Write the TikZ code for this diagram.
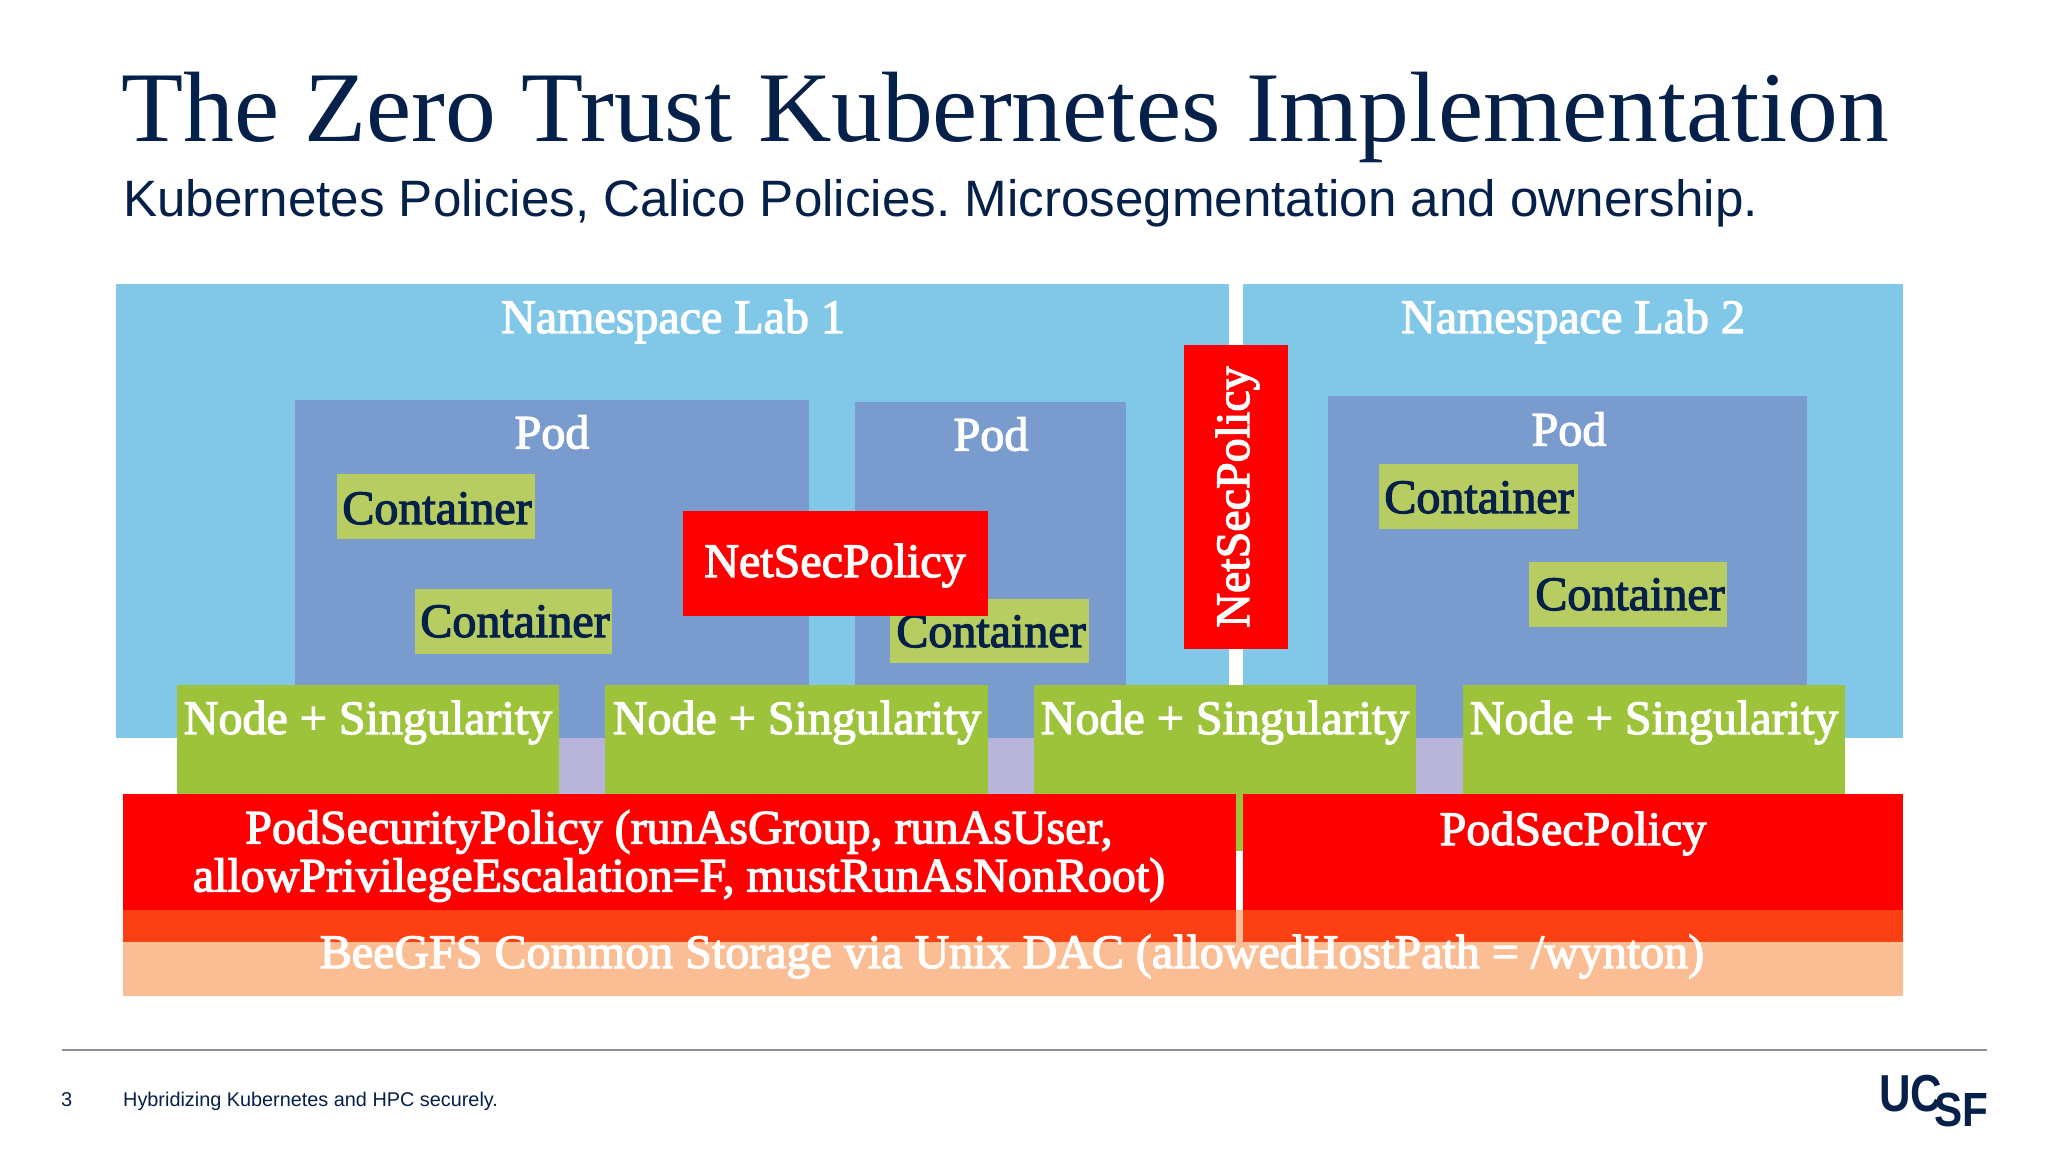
\documentclass[tikz,border=0pt]{standalone}
\usepackage{fontspec}
\setmainfont{Liberation Serif}
\newfontfamily\arialf{Liberation Sans}
\newfontfamily\labf[RawFeature={embolden=2.5}]{Liberation Serif}
\definecolor{navy}{HTML}{052049}
\definecolor{nsblue}{HTML}{81C7E8}
\definecolor{podblue}{HTML}{7A9BCE}
\definecolor{lav}{HTML}{B8B4DA}
\definecolor{contg}{HTML}{B7CD62}
\definecolor{nodeg}{HTML}{9DC33B}
\definecolor{pred}{HTML}{FF0000}
\definecolor{oran}{HTML}{FC4013}
\definecolor{peach}{HTML}{FBBE94}
\definecolor{ruleg}{HTML}{8C8C9E}
\tikzset{
  lab/.style={inner sep=0pt,anchor=base,text=white,font=\labf\frenchspacing\fontsize{48}{48}\selectfont,align=center},
  contlab/.style={lab,text=navy},
}
\begin{document}
\begin{tikzpicture}[x=1pt,y=-1pt]
\useasboundingbox (0,0) rectangle (2048,1152);
\fill[white] (0,0) rectangle (2048,1152);
% title
\node[anchor=base west,inner sep=0pt,text=navy,xscale=1.016,font=\frenchspacing\fontsize{100}{110}\selectfont] (title) at (121,141) {The Zero Trust Kubernetes Implementation};
\node[anchor=base west,inner sep=0pt,text=navy,font=\arialf\frenchspacing\fontsize{51.15}{60}\selectfont] (subtitle) at (123,216) {Kubernetes Policies, Calico Policies. Microsegmentation and ownership.};
% namespaces
\fill[nsblue] (116,284) rectangle (1229,738);
\fill[nsblue] (1243,284) rectangle (1903,738);
% pods
\fill[podblue] (295,400) rectangle (809,738);
\fill[podblue] (855,402) rectangle (1126,738);
\fill[podblue] (1328,396) rectangle (1807,738);
\fill[lav] (295,738) rectangle (809,794);
\fill[lav] (855,738) rectangle (1126,794);
\fill[lav] (1328,738) rectangle (1807,794);
\node[lab] (ns1) at (673,333) {Namespace Lab 1};
\node[lab] (ns2) at (1573,333) {Namespace Lab 2};
\node[lab] (pod1) at (552,448.5) {Pod};
\node[lab] (pod2) at (991,450.5) {Pod};
\node[lab] (pod3) at (1569,445.5) {Pod};
% containers
\fill[contg] (337,474) rectangle (535,539);
\node[contlab] (c1) at (437,524) {Container};
\fill[contg] (415,589) rectangle (612,654);
\node[contlab] (c2) at (515,637) {Container};
\fill[contg] (890,599) rectangle (1089,663);
\node[contlab] (c3) at (991,647) {Container};
\fill[contg] (1379,464) rectangle (1578,529);
\node[contlab] (c4) at (1479,513) {Container};
\fill[contg] (1529,562) rectangle (1727,627);
\node[contlab] (c5) at (1630,610) {Container};
% net sec policies
\fill[pred] (683,511) rectangle (988,616);
\node[lab] (nsp1) at (835,577) {NetSecPolicy};
\fill[pred] (1184,345) rectangle (1288,649);
\node[lab,rotate=90] (nsp2) at (1249,497) {NetSecPolicy};
% nodes
\fill[nodeg] (177,685) rectangle (559,794);
\fill[nodeg] (605,685) rectangle (988,794);
\fill[nodeg] (1034,685) rectangle (1416,851);
\fill[nodeg] (1463,685) rectangle (1845,794);
\node[lab] (n1) at (368,734) {Node + Singularity};
\node[lab] (n2) at (797,734) {Node + Singularity};
\node[lab] (n3) at (1225,734) {Node + Singularity};
\node[lab] (n4) at (1654,734) {Node + Singularity};
% storage
\fill[peach] (123,942) rectangle (1903,996);
\fill[oran] (123,910) rectangle (1236,942);
\fill[oran] (1243,910) rectangle (1903,942);
\fill[peach] (1236,910) rectangle (1243,942);
\fill[pred] (123,794) rectangle (1236,910);
\fill[pred] (1243,794) rectangle (1903,910);
\node[lab,anchor=center] (psp1) at (679,856) {PodSecurityPolicy (runAsGroup, runAsUser,\\allowPrivilegeEscalation=F, mustRunAsNonRoot)};
\node[lab] (psp2) at (1573,845) {PodSecPolicy};
\node[lab] (bee) at (1012,968) {BeeGFS Common Storage via Unix DAC (allowedHostPath = /wynton)};
% footer
\coordinate (ruleL) at (62,1050);
\coordinate (ruleR) at (1987,1050);
\draw[ruleg,line width=1.5pt] (ruleL) -- (ruleR);
\node[anchor=base west,inner sep=0pt,text=navy,font=\arialf\frenchspacing\fontsize{20}{24}\selectfont] (pg) at (61,1106) {3};
\node[anchor=base west,inner sep=0pt,text=navy,font=\arialf\frenchspacing\fontsize{19.85}{24}\selectfont] (foot) at (123,1106) {Hybridizing Kubernetes and HPC securely.};
\node[anchor=base west,inner sep=0pt,text=navy,font=\arialf\bfseries\fontsize{52}{52}\selectfont,xscale=0.84] (uc) at (1879,1111) {UC};
\node[anchor=base west,inner sep=0pt,text=navy,font=\arialf\bfseries\fontsize{48}{48}\selectfont,xscale=0.88] (sf) at (1934,1126) {SF};
\end{tikzpicture}
\end{document}
